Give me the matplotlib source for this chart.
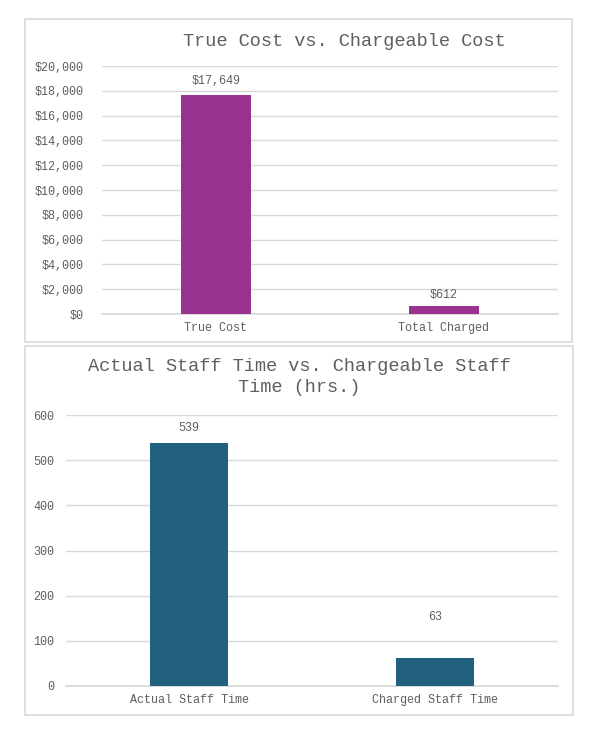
import matplotlib.pyplot as plt
from matplotlib.patches import Rectangle
from matplotlib.ticker import FuncFormatter

plt.rcParams['font.family'] = ['Liberation Mono', 'DejaVu Sans Mono']

# chart data
cost_labels = ['True Cost', 'Total Charged']
cost_values = [17649, 612]
cost_ticks = [0, 2000, 4000, 6000, 8000, 10000, 12000, 14000, 16000, 18000, 20000]

time_labels = ['Actual Staff Time', 'Charged Staff Time']
time_values = [539, 63]
time_ticks = [0, 100, 200, 300, 400, 500, 600]

purple = '#993390'
blue = '#21607F'
text_grey = '#5F5F5F'
grid_grey = '#D9D9D9'

W, H = 612, 752
fig = plt.figure(figsize=(W / 100, H / 100), dpi=100)


def px_axes(x0, y0, x1, y1):
    # pixel box (top-left origin) -> figure axes
    return fig.add_axes([x0 / W, 1 - y1 / H, (x1 - x0) / W, (y1 - y0) / H])


def px_border(x0, y0, x1, y1):
    fig.patches.append(Rectangle((x0 / W, 1 - y1 / H), (x1 - x0) / W, (y1 - y0) / H,
                                 transform=fig.transFigure, fill=False,
                                 edgecolor=grid_grey, linewidth=1.2))


def style_axes(ax, ticks, ypad):
    ax.set_yticks(ticks)
    ax.set_ylim(ticks[0], ticks[-1])
    ax.set_xlim(-0.5, 1.5)
    for s in ax.spines.values():
        s.set_visible(False)
    ax.yaxis.grid(True, color=grid_grey, linewidth=1)
    ax.axhline(0, color=grid_grey, linewidth=1.3, zorder=0.5, clip_on=False)
    ax.set_axisbelow(True)
    ax.tick_params(axis='both', length=0, labelsize=8.5, labelcolor=text_grey)
    ax.tick_params(axis='y', pad=ypad)
    ax.tick_params(axis='x', pad=6)
    ax.set_facecolor('none')


# panel borders
px_border(25, 19, 572, 342)
px_border(25, 346, 573, 715)

# top chart: cost
ax1 = px_axes(102, 66, 558, 314)
ax1.bar(range(len(cost_values)), cost_values, width=0.31, color=purple, zorder=2)
ax1.set_xticks(range(len(cost_labels)))
ax1.set_xticklabels(cost_labels)
style_axes(ax1, cost_ticks, 13.5)
ax1.yaxis.set_major_formatter(FuncFormatter(lambda v, p: f'${v:,.0f}'))
cost_offsets = [6, 4]
for i, v in enumerate(cost_values):
    ax1.annotate(f'${v:,}', (i, v), xytext=(0, cost_offsets[i]), textcoords='offset points',
                 ha='center', va='bottom', fontsize=8.5, color=text_grey)
fig.text(344 / W, 1 - 41 / H, 'True Cost vs. Chargeable Cost', ha='center', va='center',
         fontsize=13.4, color=text_grey)

# bottom chart: staff time
ax2 = px_axes(66, 415, 558, 686)
ax2.bar(range(len(time_values)), time_values, width=0.32, color=blue, zorder=2)
ax2.set_xticks(range(len(time_labels)))
ax2.set_xticklabels(time_labels)
style_axes(ax2, time_ticks, 8.5)
time_offsets = [6, 25]
for i, v in enumerate(time_values):
    ax2.annotate(f'{v}', (i, v), xytext=(0, time_offsets[i]), textcoords='offset points',
                 ha='center', va='bottom', fontsize=8.5, color=text_grey)
fig.text(299 / W, 1 - 377 / H, 'Actual Staff Time vs. Chargeable Staff\nTime (hrs.)',
         ha='center', va='center', fontsize=13.4, color=text_grey, linespacing=1.35)

fig.savefig('out.png', dpi=100)
